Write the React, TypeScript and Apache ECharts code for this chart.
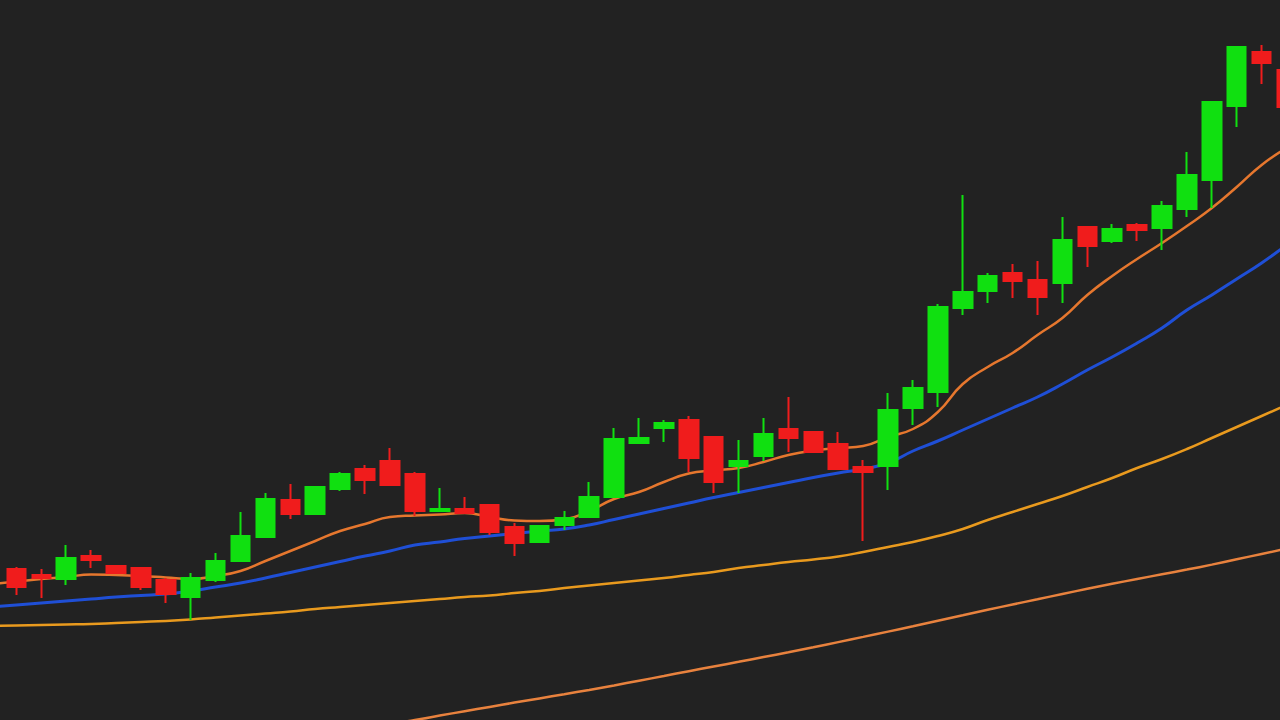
import { useEffect, useRef } from "react";
import * as echarts from "echarts";

// One empty leading slot, then 52 sessions
const categories = [
  "", "1", "2", "3", "4", "5", "6", "7", "8", "9", "10", "11", "12", "13", "14", "15", "16", "17", "18",
  "19", "20", "21", "22", "23", "24", "25", "26", "27", "28", "29", "30", "31", "32", "33", "34", "35",
  "36", "37", "38", "39", "40", "41", "42", "43", "44", "45", "46", "47", "48", "49", "50", "51", "52",
];

const open = [
  151, 145, 141, 164, 154, 152, 140, 123, 140, 159,
  183, 220, 206, 231, 251, 259, 246, 209, 211, 215,
  193, 178, 195, 203, 223, 277, 292, 300, 283, 254,
  264, 291, 288, 276, 253, 254, 312, 328, 412, 429,
  447, 440, 437, 493, 479, 495, 492, 511, 540, 614,
  668, 650,
];
const close = [
  133, 142, 162, 160, 147, 133, 126, 142, 159, 184,
  221, 206, 233, 246, 240, 235, 209, 211, 207, 188,
  177, 194, 202, 223, 281, 282, 297, 262, 238, 259,
  286, 282, 268, 251, 248, 310, 332, 413, 428, 444,
  439, 423, 480, 474, 491, 490, 514, 545, 618, 673,
  657, 613,
];
const low = [
  125, 122, 135, 152, 146, 130, 117, 100, 138, 158,
  182, 201, 205, 229, 226, 234, 204, 208, 206, 185,
  164, 177, 190, 202, 222, 276, 278, 248, 227, 227,
  259, 268, 267, 250, 179, 230, 295, 313, 405, 417,
  422, 405, 417, 453, 477, 479, 470, 503, 512, 593,
  636, 610,
];
const high = [
  153, 151, 175, 170, 155, 153, 142, 147, 167, 208,
  227, 236, 234, 248, 255, 272, 248, 232, 223, 216,
  197, 195, 209, 238, 292, 302, 300, 304, 284, 280,
  302, 323, 289, 288, 260, 327, 340, 416, 525, 447,
  456, 459, 503, 494, 496, 497, 519, 568, 619, 674,
  675, 652,
];

// Moving averages (one value per slot, including the leading slot)
const maFast = [
  136, 138.5, 141, 143, 145.5, 145, 144, 142.5, 141, 144,
  149, 159, 169, 179, 189, 196, 203, 204.5, 205.5, 207,
  203, 199.5, 199, 200.5, 209, 221, 228, 238, 246.5, 249.5,
  252, 258, 265, 269.5, 272, 274, 283, 291, 308, 336,
  353, 367, 385, 402, 425, 444, 461, 477, 494, 512,
  533, 555, 572,
];
const maMid = [
  113, 115, 117, 119, 121, 123, 124.5, 126, 129, 133,
  137, 142, 147.5, 153, 158.5, 164, 169, 175, 178, 181.5,
  184, 186.5, 189, 191, 195, 200.5, 206, 211.5, 217, 222.5,
  227.5, 232.5, 237.5, 242.5, 247, 251, 257, 269, 279, 290,
  301, 312, 323, 336, 350, 363, 377, 392, 410, 425,
  441, 457, 475,
];
const maSlow = [
  94, 94.5, 95, 95.5, 96, 97, 98, 99, 100.5, 102.5,
  104.5, 106.5, 108.5, 111, 113, 115, 117, 119, 121, 123,
  124.5, 127, 129, 132, 134.5, 137, 139.5, 142, 145, 148,
  152, 155, 158, 160.5, 163.5, 168, 173, 178, 184, 191,
  200, 208, 216, 224, 233, 242, 252, 261, 271, 282,
  293, 304, 315,
];
const maLong = [
  -65, -61, -57, -54, -50, -46, -43, -39, -35, -31,
  -28, -24, -20, -16, -12, -8, -4, 0, 4.4, 8.8,
  13.1, 17.4, 21.6, 25.8, 30.1, 34.6, 39.3, 44, 48.8, 53.5,
  58.2, 63, 67.7, 72.7, 77.9, 83.1, 88.4, 93.7, 99.2, 104.7,
  110.2, 115.5, 120.7, 126, 131.2, 136.2, 141, 145.7, 150.4, 155.4,
  160.7, 166, 171.3,
];

export default function App() {
  const ref = useRef<HTMLDivElement>(null);
  useEffect(() => {
    if (!ref.current) return;
    const chart = echarts.init(ref.current, null, { renderer: "svg" });
    const candleData: any[] = [
      ["-", "-", "-", "-"],
      ...open.map((o, i) => [o, close[i], low[i], high[i]]),
    ];
    const lineSeries = (data: number[], color: string, width: number) => ({
      type: "line",
      data,
      smooth: true,
      symbol: "none",
      z: 2,
      lineStyle: { color, width },
      emphasis: { disabled: true },
    });
    chart.setOption({
      animation: false,
      backgroundColor: "#222222",
      grid: { left: 0, right: 0, top: 0, bottom: 0 },
      xAxis: { type: "category", data: categories, show: false, boundaryGap: true },
      yAxis: { type: "value", min: 0, max: 720, show: false },
      series: [
        lineSeries(maLong, "#e8823e", 2.5),
        lineSeries(maSlow, "#e99a1e", 2.5),
        lineSeries(maMid, "#1f4fd6", 3),
        lineSeries(maFast, "#e6772e", 2.5),
        {
          type: "candlestick",
          data: candleData,
          barWidth: 19,
          z: 3,
          itemStyle: {
            color: "#10e010",
            color0: "#f01c1c",
            borderColor: "#10e010",
            borderColor0: "#f01c1c",
            borderWidth: 2,
          },
        },
      ],
    });
    return () => chart.dispose();
  }, []);
  return (
    <div
      style={{
        position: "fixed",
        left: 0,
        top: 0,
        width: 1280,
        height: 720,
        overflow: "hidden",
        background: "#222222",
      }}
    >
      <div
        ref={ref}
        style={{ position: "absolute", left: -21.5, top: 0, width: 1320, height: 720 }}
      />
    </div>
  );
}
